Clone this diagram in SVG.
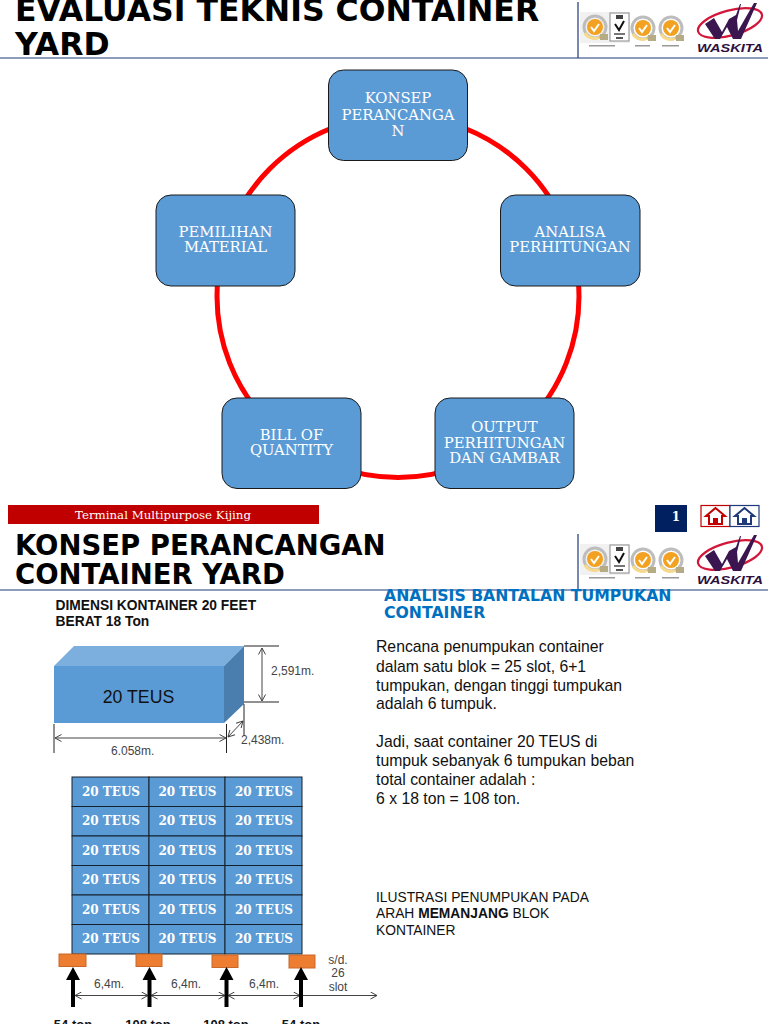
<svg xmlns="http://www.w3.org/2000/svg" xmlns:xlink="http://www.w3.org/1999/xlink" width="768" height="1024" viewBox="0 0 768 1024">
<style>
.t1{font:bold 31.500px "DejaVu Sans",sans-serif;fill:#000}
.t2{font:bold 27.500px "DejaVu Sans",sans-serif;fill:#000}
.node{fill:#5b9bd5;stroke:#1a1a1a;stroke-width:1}
.nt{font:14.800px "DejaVu Serif",serif;fill:#fff;text-anchor:middle}
.body{font:15.750px "Liberation Sans",Arial,sans-serif;fill:#111}
.small{font:13.800px "Liberation Sans",Arial,sans-serif;fill:#111}
.head{font:bold 13.800px "Liberation Sans",Arial,sans-serif;fill:#111}
.dim{font:12px "Liberation Sans",Arial,sans-serif;fill:#444}
.cell{fill:#5b9bd5;stroke:#14202c;stroke-width:1}
.ct{font:bold 12px "DejaVu Serif",serif;fill:#fff;text-anchor:middle}
.pad{fill:#ed7d31;stroke:#c8682a;stroke-width:1}
.dl{stroke:#444;stroke-width:1;fill:none}
.tick{stroke:#222;stroke-width:1;fill:none}
.hl{stroke:#1f3a7a;stroke-width:1.2}
.load{font:bold 13px "Liberation Sans",Arial,sans-serif;fill:#111;text-anchor:middle}
</style>
<defs>
<marker id="op" viewBox="0 0 8 8" refX="7.500" refY="4" markerUnits="userSpaceOnUse" markerWidth="8" markerHeight="8" orient="auto-start-reverse"><path d="M1 0.500L7.500 4L1 7.500" fill="none" stroke="#444" stroke-width="1"/></marker>
<path id="arrow" d="M-7 980L0 967L7 980H2V1007H-2V980Z" fill="#000"/>
<g id="logos">
<rect x="580" y="12" width="50" height="31" fill="#f1f1f1"/>
<g fill="none" stroke="#bdbdbd" stroke-width="3"><circle cx="595" cy="27" r="11"/><circle cx="643" cy="28" r="11"/><circle cx="671" cy="28" r="11"/></g>
<g fill="none" stroke="#f6d98a" stroke-width="3"><path d="M585 33a11 11 0 0 0 14 4.500"/><path d="M633 34a11 11 0 0 0 14 4.500"/><path d="M661 34a11 11 0 0 0 14 4.500"/></g>
<g fill="#f2a121"><circle cx="595" cy="27" r="8"/><circle cx="643" cy="28" r="8"/><circle cx="671" cy="28" r="8"/></g>
<g fill="none" stroke="#fff" stroke-width="2"><path d="M591 27l3 4 5-7"/><path d="M639 28l3 4 5-7"/><path d="M667 28l3 4 5-7"/></g>
<g fill="#b5ab85"><rect x="600" y="34" width="8" height="6"/><rect x="648" y="35" width="8" height="6"/><rect x="676" y="35" width="8" height="6"/></g>
<rect x="610" y="13" width="19" height="28" fill="#fff" stroke="#8a8a8a" stroke-width="1"/>
<rect x="616" y="15" width="7" height="4" fill="#444"/>
<path d="M615 24l4 6 5-9" fill="none" stroke="#111" stroke-width="2"/>
<rect x="614" y="33" width="11" height="2" fill="#777"/><rect x="616" y="37" width="7" height="2" fill="#555"/>
<g fill="#999"><rect x="589" y="45" width="26" height="1.500"/><rect x="635" y="45" width="15" height="1.500"/><rect x="662" y="45" width="17" height="1.500"/></g>
<ellipse cx="730" cy="23" rx="33" ry="12.500" fill="none" stroke="#d3173a" stroke-width="2.200" transform="rotate(-15 730 23)"/>
<path d="M705 24L714 18L722 32L729 19L736 15L740 4L741 4L737 20L738 31L754 3L757 3L741 39H733L727 27L720 39H715Z" fill="#3a1550"/>
<text x="697" y="52" font-family="Liberation Sans,sans-serif" font-size="11" font-weight="bold" font-style="italic" fill="#2d1040" textLength="66" lengthAdjust="spacingAndGlyphs">WASKITA</text>
</g>
</defs>
<rect width="768" height="1024" fill="#fff"/>

<text class="t1" x="15" y="21">EVALUASI TEKNIS CONTAINER</text>
<text class="t1" x="15" y="55">YARD</text>
<path class="hl" d="M0 58H768M578 2V58"/>
<use xlink:href="#logos"/>

<g id="connectors">
<circle cx="398" cy="296.500" r="181" fill="none" stroke="#ff0000" stroke-width="5"/>
</g>
<g id="n1"><rect class="node" x="328.500" y="70" width="139" height="90.500" rx="15"/><text class="nt" x="398" y="103">KONSEP</text><text class="nt" x="398" y="120">PERANCANGA</text><text class="nt" x="398" y="136">N</text></g>
<g id="n2"><rect class="node" x="500.500" y="195" width="139.500" height="91" rx="15"/><text class="nt" x="570" y="237">ANALISA</text><text class="nt" x="570" y="252">PERHITUNGAN</text></g>
<g id="n3"><rect class="node" x="435" y="398" width="139" height="90.500" rx="15"/><text class="nt" x="504.500" y="432">OUTPUT</text><text class="nt" x="504.500" y="448">PERHITUNGAN</text><text class="nt" x="504.500" y="463">DAN GAMBAR</text></g>
<g id="n4"><rect class="node" x="222" y="398" width="139" height="90.500" rx="15"/><text class="nt" x="291.500" y="440">BILL OF</text><text class="nt" x="291.500" y="455">QUANTITY</text></g>
<g id="n5"><rect class="node" x="156" y="195" width="139" height="91" rx="15"/><text class="nt" x="225.500" y="237">PEMILIHAN</text><text class="nt" x="225.500" y="252">MATERIAL</text></g>

<g id="footer">
<rect x="8" y="505" width="311" height="19" fill="#c00000"/>
<text x="163" y="519" font-family="DejaVu Serif,serif" font-size="11.800" fill="#fff" text-anchor="middle">Terminal Multipurpose Kijing</text>
<rect x="655" y="505" width="32" height="27" fill="#002060"/>
<text x="676" y="521" font-family="DejaVu Serif,serif" font-size="12" font-weight="bold" fill="#fff" text-anchor="middle">1</text>
<rect x="701" y="505.500" width="29" height="21" fill="#fff" stroke="#c00000" stroke-width="1.200"/>
<rect x="730" y="505.500" width="29" height="21" fill="#fff" stroke="#1f3a7a" stroke-width="1.200"/>
<path d="M706 516l9.500-8 9.500 8h-3v8h-13v-8z" fill="none" stroke="#c00000" stroke-width="2"/><rect x="713" y="518" width="5" height="6" fill="#c00000"/>
<path d="M735 516l9.500-8 9.500 8h-3v8h-13v-8z" fill="none" stroke="#1f3a7a" stroke-width="2"/><rect x="742" y="518" width="5" height="6" fill="#1f3a7a"/>
</g>

<text class="t2" x="15" y="555">KONSEP PERANCANGAN</text>
<text class="t2" x="15" y="584">CONTAINER YARD</text>
<path class="hl" d="M0 590H768M578 534V590"/>
<use xlink:href="#logos" y="532"/>

<text class="head" x="55.500" y="610">DIMENSI KONTAINER 20 FEET</text>
<text class="head" x="55.500" y="626">BERAT 18 Ton</text>

<g id="box">
<path d="M54 666L74 646H244L224 666Z" fill="#7cafde"/>
<path d="M224 666L244 646V704L224 723Z" fill="#4a7eae"/>
<rect x="54" y="666" width="170" height="57" fill="#5b9bd5"/>
<text x="138.500" y="703" font-family="Liberation Sans,sans-serif" font-size="17.700" fill="#111" text-anchor="middle">20 TEUS</text>
<path class="tick" d="M244 646H279M244 702H279M54 724V753M226.500 724V753M244 704V736"/>
<path class="dl" d="M262 648V701" marker-start="url(#op)" marker-end="url(#op)"/>
<path class="dl" d="M55 738H226" marker-start="url(#op)" marker-end="url(#op)"/>
<path class="dl" d="M228 737L243 721" marker-start="url(#op)" marker-end="url(#op)"/>
<text class="dim" x="271" y="675">2,591m.</text>
<text class="dim" x="241" y="744">2,438m.</text>
<text class="dim" x="111" y="755">6.058m.</text>
</g>

<g id="stack">
<rect class="cell" x="72" y="777" width="77" height="29.500"/><rect class="cell" x="149" y="777" width="76" height="29.500"/><rect class="cell" x="225" y="777" width="77" height="29.500"/>
<rect class="cell" x="72" y="806.500" width="77" height="29.500"/><rect class="cell" x="149" y="806.500" width="76" height="29.500"/><rect class="cell" x="225" y="806.500" width="77" height="29.500"/>
<rect class="cell" x="72" y="836" width="77" height="29.500"/><rect class="cell" x="149" y="836" width="76" height="29.500"/><rect class="cell" x="225" y="836" width="77" height="29.500"/>
<rect class="cell" x="72" y="865.500" width="77" height="29.500"/><rect class="cell" x="149" y="865.500" width="76" height="29.500"/><rect class="cell" x="225" y="865.500" width="77" height="29.500"/>
<rect class="cell" x="72" y="895" width="77" height="29.500"/><rect class="cell" x="149" y="895" width="76" height="29.500"/><rect class="cell" x="225" y="895" width="77" height="29.500"/>
<rect class="cell" x="72" y="924.500" width="77" height="29.500"/><rect class="cell" x="149" y="924.500" width="76" height="29.500"/><rect class="cell" x="225" y="924.500" width="77" height="29.500"/>
<text class="ct" x="111" y="796">20 TEUS</text><text class="ct" x="187.500" y="796">20 TEUS</text><text class="ct" x="264" y="796">20 TEUS</text>
<text class="ct" x="111" y="825">20 TEUS</text><text class="ct" x="187.500" y="825">20 TEUS</text><text class="ct" x="264" y="825">20 TEUS</text>
<text class="ct" x="111" y="855">20 TEUS</text><text class="ct" x="187.500" y="855">20 TEUS</text><text class="ct" x="264" y="855">20 TEUS</text>
<text class="ct" x="111" y="884">20 TEUS</text><text class="ct" x="187.500" y="884">20 TEUS</text><text class="ct" x="264" y="884">20 TEUS</text>
<text class="ct" x="111" y="914">20 TEUS</text><text class="ct" x="187.500" y="914">20 TEUS</text><text class="ct" x="264" y="914">20 TEUS</text>
<text class="ct" x="111" y="943">20 TEUS</text><text class="ct" x="187.500" y="943">20 TEUS</text><text class="ct" x="264" y="943">20 TEUS</text>
<rect class="pad" x="59" y="954" width="27" height="12.500"/>
<rect class="pad" x="136" y="954" width="26" height="12.500"/>
<rect class="pad" x="212" y="955" width="26" height="12.500"/>
<rect class="pad" x="289" y="955" width="26" height="13"/>
</g>

<g id="loads">
<path class="dl" d="M301 995.500H377" marker-end="url(#op)"/>
<path class="dl" d="M75 995.500H148" marker-start="url(#op)" marker-end="url(#op)"/>
<path class="dl" d="M151 995.500H225" marker-start="url(#op)" marker-end="url(#op)"/>
<path class="dl" d="M228 995.500H300" marker-start="url(#op)" marker-end="url(#op)"/>
<use xlink:href="#arrow" x="73"/><use xlink:href="#arrow" x="149.500"/><use xlink:href="#arrow" x="226.500"/><use xlink:href="#arrow" x="301"/>
<text class="dim" x="94" y="988">6,4m.</text><text class="dim" x="171" y="988">6,4m.</text><text class="dim" x="249" y="988">6,4m.</text>
<text class="dim" x="338" y="964" text-anchor="middle">s/d.</text><text class="dim" x="338" y="977" text-anchor="middle">26</text><text class="dim" x="338" y="991" text-anchor="middle">slot</text>
<text class="load" x="73" y="1029">54 ton</text><text class="load" x="148" y="1029">108 ton</text><text class="load" x="226" y="1029">108 ton</text><text class="load" x="301" y="1029">54 ton</text>
</g>

<g id="right">
<text x="384" y="601" font-family="DejaVu Sans,sans-serif" font-size="15.700" font-weight="bold" fill="#0070c0">ANALISIS BANTALAN TUMPUKAN</text>
<text x="384" y="618" font-family="DejaVu Sans,sans-serif" font-size="15.700" font-weight="bold" fill="#0070c0">CONTAINER</text>
<text class="body" x="376" y="652">Rencana penumpukan container</text>
<text class="body" x="376" y="672">dalam satu blok = 25 slot, 6+1</text>
<text class="body" x="376" y="691">tumpukan, dengan tinggi tumpukan</text>
<text class="body" x="376" y="709">adalah 6 tumpuk.</text>
<text class="body" x="376" y="747">Jadi, saat container 20 TEUS di</text>
<text class="body" x="376" y="766">tumpuk sebanyak 6 tumpukan beban</text>
<text class="body" x="376" y="785">total container adalah :</text>
<text class="body" x="376" y="804">6 x 18 ton = 108 ton.</text>
<text class="small" x="376" y="902">ILUSTRASI PENUMPUKAN PADA</text>
<text class="small" x="376" y="918">ARAH <tspan font-weight="bold">MEMANJANG</tspan> BLOK</text>
<text class="small" x="376" y="935">KONTAINER</text>
</g>
</svg>
